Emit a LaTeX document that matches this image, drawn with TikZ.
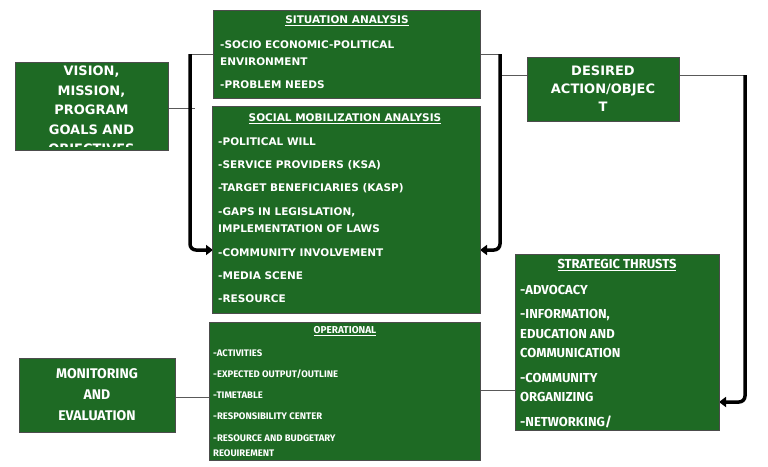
\documentclass[tikz,border=0pt]{standalone}
\usepackage{fontspec}
\setmainfont{DejaVu Sans}
\newfontfamily\fira{Fira Sans}
\usetikzlibrary{arrows.meta}
\definecolor{bx}{HTML}{1E6A24}
\tikzset{
 gbox/.style={draw=black!70,fill=bx,line width=0.6pt},
 tl/.style={anchor=west,text=white,font=\bfseries\fontsize{10.5}{12}\selectfont,inner sep=0pt},
 tt/.style={anchor=center,text=white,font=\bfseries\fontsize{10.5}{12}\selectfont,inner sep=0pt},
 bl/.style={anchor=west,text=white,font=\fira\bfseries\fontsize{9.5}{11}\selectfont,inner sep=0pt},
 big/.style={text=white,align=center,inner sep=0pt},
 thin/.style={draw=black!65,line width=0.6pt},
 thick/.style={draw=black,line width=3.5pt,rounded corners=6pt,-{Triangle[length=7pt,width=10pt]}},
}
\begin{document}
\begin{tikzpicture}[x=1pt,y=-1pt]
\useasboundingbox (0,0) rectangle (768,466);
% connectors
\coordinate (lb) at (190,54);
\coordinate (rb) at (500,54);
\coordinate (dl) at (745,75);
\draw[thin] (168,108) -- (195,108);
\draw[thin] (500,75) -- (527,75);
\draw[thin] (679,75) -- (745,75);
\draw[thin] (175,397) -- (209,397);
\draw[thin] (480,390) -- (515,390);
\draw[thin] (190,54) -- (213,54);
\draw[thin] (480,54) -- (500,54);
\draw[thick] (lb) -- (190,250) -- (213,250);
\draw[thick] (rb) -- (500,250) -- (480,250);
\draw[thick] (dl) -- (745,402) -- (719,402);
% situation
\node[gbox,minimum width=267pt,minimum height=88pt,anchor=north west] (sit) at (213,10) {};
\node[tt] (sitT) at (347,21) {\underline{SITUATION ANALYSIS}};
\node[tl] (s1) at (220,45) {-SOCIO ECONOMIC-POLITICAL};
\node[tl] (s2) at (220,62) {ENVIRONMENT};
\node[tl] (s3) at (220,85) {-PROBLEM NEEDS};
% social
\node[gbox,minimum width=268pt,minimum height=207pt,anchor=north west] (soc) at (212,106) {};
\node[tt] (socT) at (345,119) {\underline{SOCIAL MOBILIZATION ANALYSIS}};
\node[tl] at (218,142) {-POLITICAL WILL};
\node[tl] at (218,165) {-SERVICE PROVIDERS (KSA)};
\node[tl] at (218,188) {-TARGET BENEFICIARIES (KASP)};
\node[tl] at (218,212) {-GAPS IN LEGISLATION,};
\node[tl] at (218,229) {IMPLEMENTATION OF LAWS};
\node[tl] at (218,253) {-COMMUNITY INVOLVEMENT};
\node[tl] at (218,276) {-MEDIA SCENE};
\node[tl] at (218,299) {-RESOURCE};
% vision
\node[gbox,minimum width=153pt,minimum height=88pt,anchor=north west] (vis) at (15,62) {};
\begin{scope}
\clip (15,62) rectangle (168,146);
\node[big,font=\bfseries\fontsize{13}{19.5}\selectfont,anchor=north] (visT) at (91.5,66) {VISION,\\MISSION,\\PROGRAM\\GOALS AND\\OBJECTIVES};
\end{scope}
% desired
\node[gbox,minimum width=152pt,minimum height=64pt,anchor=north west] (des) at (527,57) {};
\node[big,font=\bfseries\fontsize{13}{18}\selectfont] (desT) at (603,89) {DESIRED\\ACTION/OBJEC\\T};
% strategic
\node[gbox,minimum width=204pt,minimum height=176pt,anchor=north west] (str) at (515,254) {};
\node[big,font=\fira\bfseries\fontsize{13}{15}\selectfont,anchor=center] at (617,265) {\underline{STRATEGIC THRUSTS}};
\begin{scope}[every node/.style={anchor=west,text=white,font=\fira\bfseries\fontsize{13}{15}\selectfont,inner sep=0pt}]
\node at (520,290) {-ADVOCACY};
\node at (520,315) {-INFORMATION,};
\node at (520,334) {EDUCATION AND};
\node at (520,353) {COMMUNICATION};
\node at (520,378) {-COMMUNITY};
\node at (520,397) {ORGANIZING};
\node at (520,422) {-NETWORKING/};
\end{scope}
% operational
\node[gbox,minimum width=271pt,minimum height=138pt,anchor=north west] (op) at (209,322) {};
\node[big,font=\fira\bfseries\fontsize{10}{12}\selectfont] at (345,331) {\underline{OPERATIONAL}};
\node[bl] at (213,353) {-ACTIVITIES};
\node[bl] at (213,374) {-EXPECTED OUTPUT/OUTLINE};
\node[bl] at (213,395) {-TIMETABLE};
\node[bl] at (213,416) {-RESPONSIBILITY CENTER};
\node[bl] at (213,438) {-RESOURCE AND BUDGETARY};
\node[bl] at (213,453) {REOUIREMENT};
% monitoring
\node[gbox,minimum width=156pt,minimum height=74pt,anchor=north west] (mon) at (19,358) {};
\node[big,font=\fira\bfseries\fontsize{14}{21}\selectfont] (monT) at (97,395) {MONITORING\\AND\\EVALUATION};
\end{tikzpicture}
\end{document}
